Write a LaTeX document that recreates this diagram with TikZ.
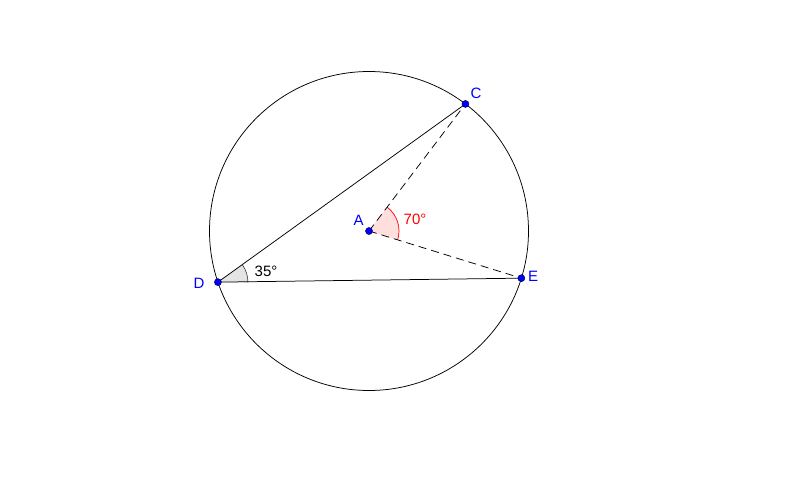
\documentclass[tikz,border=0pt]{standalone}
\usepackage{fontspec}
\setmainfont{Liberation Sans}
\usetikzlibrary{calc}
\definecolor{ptblue}{RGB}{0,0,255}
\definecolor{angred}{RGB}{255,0,0}
\definecolor{angredfill}{RGB}{255,222,222}
\definecolor{anggrayfill}{RGB}{228,228,228}
\tikzset{
  pt/.style={circle,fill=ptblue,draw=black!70!blue,line width=0.5pt,inner sep=0pt,minimum size=7pt},
  ptlabel/.style={text=ptblue,font=\fontsize{15}{15}\selectfont,inner sep=0pt},
  anglabel/.style={font=\fontsize{15}{15}\selectfont,inner sep=0pt},
  seg/.style={line width=0.75pt,black},
  dseg/.style={line width=0.75pt,black,dash pattern=on 8pt off 5pt},
}
\begin{document}
\begin{tikzpicture}[x=1pt,y=-1pt]
\useasboundingbox (0,0) rectangle (800,503);
\coordinate (A) at (369,231);
\def\R{159.5}
\coordinate (C) at ($(A)+({\R*cos(52.8)},{-\R*sin(52.8)})$);
\coordinate (D) at ($(A)+({\R*cos(198.7)},{-\R*sin(198.7)})$);
\coordinate (E) at ($(A)+({\R*cos(-17.2)},{-\R*sin(-17.2)})$);
% angle fills
\fill[anggrayfill] (D) -- ++({30*cos(-0.8)},{-30*sin(-0.8)}) arc[start angle=0.8,end angle=-35.8,radius=30] -- cycle;
\draw[line width=0.6pt,black!80] ($(D)+({30*cos(-0.8)},{-30*sin(-0.8)})$) arc[start angle=0.8,end angle=-35.8,radius=30];
\fill[angredfill] (A) -- ++({30*cos(-17.2)},{-30*sin(-17.2)}) arc[start angle=17.2,end angle=-52.8,radius=30] -- cycle;
\draw[line width=0.7pt,angred] ($(A)+({30*cos(-17.2)},{-30*sin(-17.2)})$) arc[start angle=17.2,end angle=-52.8,radius=30];
% circle
\draw[line width=0.75pt] (A) circle[radius=\R];
% segments
\draw[seg] (D) -- (C);
\draw[seg] (D) -- (E);
\draw[dseg] (A) -- (C);
\draw[dseg] (A) -- (E);
% points
\node[pt] (pA) at (A) {};
\node[pt] (pC) at (C) {};
\node[pt] (pD) at (D) {};
\node[pt] (pE) at (E) {};
\node[ptlabel] (lA) at (358.5,220.5) {A};
\node[ptlabel] (lC) at (476,93) {C};
\node[ptlabel] (lD) at (199,283) {D};
\node[ptlabel] (lE) at (533,276) {E};
\node[anglabel,text=angred] (l70) at (415,219) {70°};
\node[anglabel] (l35) at (266,271.5) {35°};
\end{tikzpicture}
\end{document}
